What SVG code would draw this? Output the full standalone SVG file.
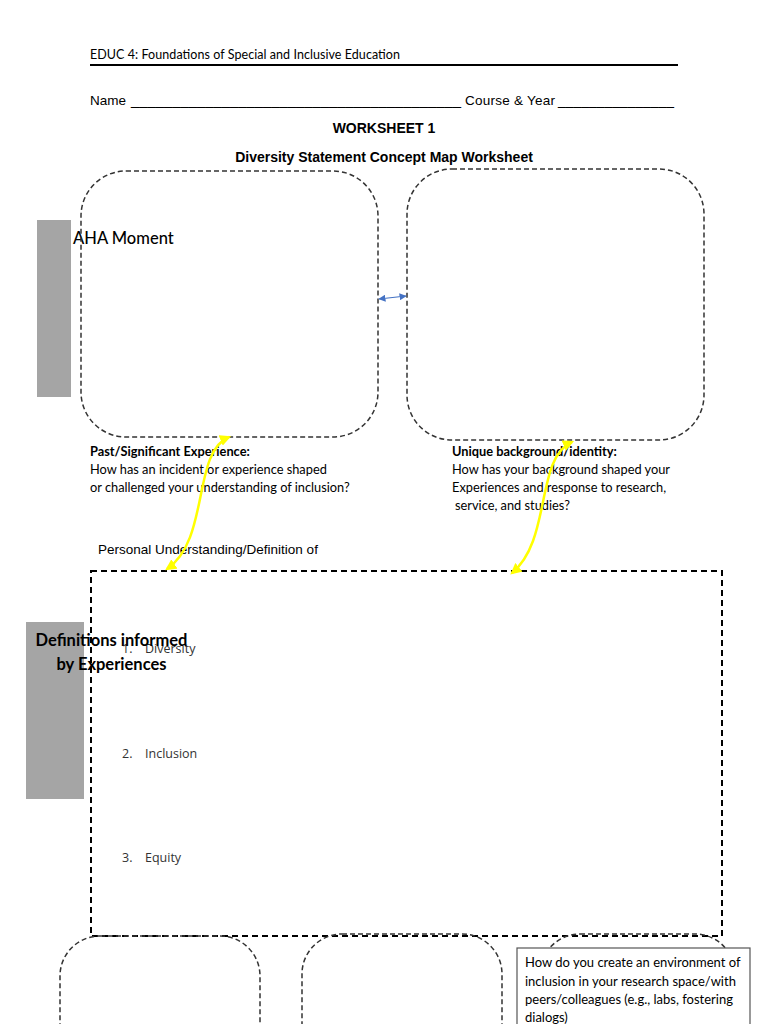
<svg xmlns="http://www.w3.org/2000/svg" width="768" height="1024" viewBox="0 0 768 1024">
<defs>
<style>
.cal{font-family:Lato,"Open Sans","Liberation Sans",sans-serif;fill:#000}
.ar{font-family:"Liberation Sans",Arial,sans-serif;fill:#000}
.box{fill:none;stroke:#333;stroke-width:1.5;stroke-dasharray:5 3}
.big{fill:none;stroke:#000;stroke-width:2;stroke-dasharray:6 4}
.gray{fill:#a5a5a5}
.yel{fill:none;stroke:#ffff00;stroke-width:2.5;marker-start:url(#ya);marker-end:url(#ya)}
.item{font-family:"Open Sans","Liberation Sans",sans-serif;font-size:12.5px;fill:#333}
</style>
<marker id="ya" viewBox="0 0 10 10" refX="8" refY="5" markerWidth="4.5" markerHeight="4.5" orient="auto-start-reverse" markerUnits="strokeWidth">
<path d="M0,0 L10,5 L0,10 z" fill="#ffff00"/>
</marker>
<marker id="ba" viewBox="0 0 10 10" refX="9" refY="5" markerWidth="6" markerHeight="6" orient="auto-start-reverse" markerUnits="strokeWidth">
<path d="M0,0 L10,5 L0,10 z" fill="#4472c4"/>
</marker>
</defs>
<rect width="768" height="1024" fill="#fff"/>

<g id="header">
<text class="cal" x="90" y="59" font-size="12.5" textLength="310">EDUC 4: Foundations of Special and Inclusive Education</text>
<line x1="90" y1="65" x2="678" y2="65" stroke="#000" stroke-width="2"/>
<text class="ar" x="90" y="105" font-size="13.5">Name</text>
<text class="ar" x="131" y="105" font-size="13.5" textLength="330" lengthAdjust="spacingAndGlyphs">________________________________________</text>
<text class="ar" x="465" y="105" font-size="13.5" textLength="90">Course &amp; Year</text>
<text class="ar" x="558" y="105" font-size="13.5" textLength="116" lengthAdjust="spacingAndGlyphs">_______________</text>
<text class="ar" x="384" y="133" font-size="14" font-weight="bold" text-anchor="middle">WORKSHEET 1</text>
<text class="ar" x="384" y="162" font-size="14" font-weight="bold" text-anchor="middle">Diversity Statement Concept Map Worksheet</text>
</g>

<g id="aha-label">
<rect class="gray" x="37" y="220" width="34" height="177"/>
<text class="cal" x="73" y="244" font-size="16.5" font-weight="500">AHA Moment</text>
</g>

<g id="box-past">
<rect class="box" x="81" y="171" width="297" height="266" rx="45" ry="45"/>
</g>

<g id="box-unique">
<rect class="box" x="407" y="169" width="297" height="271" rx="45" ry="45"/>
</g>

<g id="text-past">
<text class="cal" x="90" y="456" font-size="12.8" font-weight="bold">Past/Significant Experience:</text>
<text class="cal" x="90" y="474" font-size="12.8">How has an incident or experience shaped</text>
<text class="cal" x="90" y="492" font-size="12.8">or challenged your understanding of inclusion?</text>
</g>

<g id="text-unique">
<text class="cal" x="452" y="456" font-size="12.8" font-weight="bold">Unique background/identity:</text>
<text class="cal" x="452" y="474" font-size="12.8">How has your background shaped your</text>
<text class="cal" x="452" y="492" font-size="12.8">Experiences and response to research,</text>
<text class="cal" x="455" y="510" font-size="12.8">service, and studies?</text>
</g>

<g id="definitions">
<text class="ar" x="98" y="554" font-size="13.5">Personal Understanding/Definition of</text>
<rect class="big" x="91" y="571" width="631" height="365"/>
<text class="item" x="122" y="653">1.<tspan x="145">Diversity</tspan></text>
<text class="item" x="122" y="758">2.<tspan x="145">Inclusion</tspan></text>
<text class="item" x="122" y="862">3.<tspan x="145">Equity</tspan></text>
</g>

<g id="definitions-label">
<rect class="gray" x="26" y="622" width="58" height="177"/>
<text class="cal" x="111.5" y="646" font-size="16.5" font-weight="bold" text-anchor="middle">Definitions informed</text>
<text class="cal" x="111.5" y="670" font-size="16.5" font-weight="bold" text-anchor="middle">by Experiences</text>
</g>

<g id="box-bottom-1">
<rect class="box" x="60" y="936" width="200" height="200" rx="40" ry="40"/>
</g>
<g id="box-bottom-2">
<rect class="box" x="302" y="934" width="200" height="200" rx="40" ry="40"/>
</g>
<g id="box-bottom-3">
<rect class="box" x="540" y="934" width="195" height="200" rx="40" ry="40"/>
<rect x="517" y="948" width="233" height="90" fill="#fff" stroke="#555" stroke-width="1.2"/>
<text class="cal" x="525" y="967" font-size="13">How do you create an environment of</text>
<text class="cal" x="525" y="986" font-size="13">inclusion in your research space/with</text>
<text class="cal" x="525" y="1004" font-size="13">peers/colleagues (e.g., labs, fostering</text>
<text class="cal" x="525" y="1022" font-size="13">dialogs)</text>
</g>

<g id="connectors">
<line x1="379" y1="299" x2="406" y2="296" stroke="#4472c4" stroke-width="1.2" marker-start="url(#ba)" marker-end="url(#ba)"/>
<path class="yel" d="M229,437 C192,452 210,540 167,569"/>
<path class="yel" d="M572,442 C535,458 552,540 512,573"/>
</g>
</svg>
